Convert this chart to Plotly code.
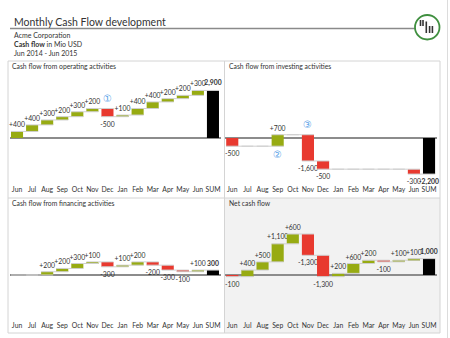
import plotly.graph_objects as go

# ---------------- data ----------------
months = ["Jun", "Jul", "Aug", "Sep", "Oct", "Nov", "Dec", "Jan", "Feb", "Mar", "Apr", "May", "Jun"]
sum_label = "SUM"
operating = [400, 400, 300, 200, 300, 200, -500, 100, 400, 400, 200, 200, 300]
investing = [-500, 0, 0, 700, 0, -1600, -500, 0, 0, 0, 0, 0, -300]
financing = [0, 0, 200, 200, 300, 100, -300, 100, 200, -200, -300, -100, 100]
net_cash = [-100, 400, 500, 1100, 600, -1300, -1300, 200, 600, 200, -100, 100, 100]
panel_titles = ["Cash flow from operating activities", "Cash flow from investing activities",
                "Cash flow from financing activities", "Net cash flow"]
# notes: (panel index, month index, symbol, side)
notes = [(0, 6, "①", "above"), (1, 3, "②", "below"), (1, 5, "③", "above")]

title = "Monthly Cash Flow development"
company = "Acme Corporation"
measure_txt = "<b>Cash flow</b> in Mio USD"
period = "Jun 2014 - Jun 2015"

# ---------------- style ----------------
W, H = 450, 338
GREEN = "#97ab12"
RED = "#e8392f"
BLUE = "#5aa2e8"
TXT = "#333333"
FONT = "Lato, 'Open Sans', sans-serif"
PX_PER_UNIT = 0.0164


def X(px):
    return px / W


def Y(py):
    return 1 - py / H


# panel geometry in pixels: x-domain, y-domain (top, bottom), baseline
panels_geo = [
    dict(x0=9.5, x1=220.5, top=70, bottom=184, base=138),
    dict(x0=224.7, x1=436.6, top=70, bottom=184, base=138),
    dict(x0=9.5, x1=220.5, top=207, bottom=320, base=275),
    dict(x0=224.7, x1=436.6, top=207, bottom=320, base=275),
]
series = [operating, investing, financing, net_cash]

fig = go.Figure()
layout = dict(
    width=W, height=H, autosize=False,
    margin=dict(l=0, r=0, t=0, b=0),
    paper_bgcolor="white", plot_bgcolor="rgba(0,0,0,0)",
    showlegend=False, bargap=0.3,
    font=dict(family=FONT, color=TXT),
)

annotations = []
shapes = []

ticktext = months + [sum_label]
xs = list(range(len(ticktext)))

for i, (vals, g) in enumerate(zip(series, panels_geo)):
    ax = "" if i == 0 else str(i + 1)
    total = sum(vals)
    texts = [f"{v:+,}" if v else "" for v in vals] + [f"<b>{total:,}</b>"]
    fig.add_trace(go.Waterfall(
        x=xs, y=vals + [0], measure=["relative"] * len(vals) + ["total"],
        text=texts, textposition="outside", constraintext="none", cliponaxis=False,
        textfont=dict(size=6.8, color=TXT, family=FONT),
        increasing=dict(marker=dict(color=GREEN)),
        decreasing=dict(marker=dict(color=RED)),
        totals=dict(marker=dict(color="black")),
        connector=dict(mode="spanning", line=dict(color="#cfcfcf", width=1)),
        xaxis="x" + ax, yaxis="y" + ax, hoverinfo="skip",
    ))
    units_per_px = 1 / PX_PER_UNIT
    yr = [-(g["bottom"] - g["base"]) * units_per_px, (g["base"] - g["top"]) * units_per_px]
    layout["xaxis" + ax] = dict(
        domain=[X(g["x0"]), X(g["x1"])], anchor="y" + ax, range=[-0.5, len(xs) - 0.5],
        tickmode="array", tickvals=xs, ticktext=ticktext, ticks="", showline=False,
        tickangle=0, showgrid=False, zeroline=False,
        tickfont=dict(size=6.8, color=TXT, family=FONT), fixedrange=True,
    )
    layout["yaxis" + ax] = dict(
        domain=[Y(g["bottom"]), Y(g["top"])], anchor="x" + ax, range=yr,
        showgrid=False, showticklabels=False, ticks="", showline=False,
        zeroline=True, zerolinecolor="#8c8c8c", zerolinewidth=2, fixedrange=True,
    )

# panel titles
title_pos = [(10, 66), (227, 66), (10, 203), (227, 203)]
for t, (px, py) in zip(panel_titles, title_pos):
    annotations.append(dict(text=t, x=X(px), y=Y(py), xref="paper", yref="paper",
                            xanchor="left", yanchor="middle", showarrow=False,
                            font=dict(size=6.8, color=TXT, family=FONT)))

# circled notes
for (pi, mi, sym, side) in notes:
    vals = series[pi]
    start = sum(vals[:mi])
    end = start + vals[mi]
    ax = "" if pi == 0 else str(pi + 1)
    if side == "above":
        yv, shift = max(start, end), 10
    else:
        yv, shift = min(start, end), -8
    annotations.append(dict(text=sym, x=mi, y=yv, xref="x" + ax, yref="y" + ax,
                            yshift=shift, showarrow=False,
                            font=dict(size=10, color=BLUE, family="DejaVu Sans")))

# header texts
annotations += [
    dict(text=title, x=X(12), y=Y(22), xref="paper", yref="paper", xanchor="left",
         yanchor="middle", showarrow=False, font=dict(size=10.5, color=TXT, family=FONT)),
    dict(text=company, x=X(12), y=Y(35), xref="paper", yref="paper", xanchor="left",
         yanchor="middle", showarrow=False, font=dict(size=7, color=TXT, family=FONT)),
    dict(text=measure_txt, x=X(12), y=Y(44), xref="paper", yref="paper", xanchor="left",
         yanchor="middle", showarrow=False, font=dict(size=7, color=TXT, family=FONT)),
    dict(text=period, x=X(12), y=Y(53), xref="paper", yref="paper", xanchor="left",
         yanchor="middle", showarrow=False, font=dict(size=7, color=TXT, family=FONT)),
]

# background / frames
shapes.append(dict(type="rect", xref="paper", yref="paper", x0=X(225), x1=X(440),
                   y0=Y(333), y1=Y(198), fillcolor="#f2f2f2", line=dict(width=0), layer="below"))
shapes.append(dict(type="rect", xref="paper", yref="paper", x0=X(8), x1=X(440),
                   y0=Y(333), y1=Y(61), line=dict(color="#d4d4d4", width=1), layer="below"))
shapes.append(dict(type="line", xref="paper", yref="paper", x0=X(224.5), x1=X(224.5),
                   y0=Y(333), y1=Y(61), line=dict(color="#d4d4d4", width=1), layer="below"))
shapes.append(dict(type="line", xref="paper", yref="paper", x0=X(8), x1=X(440),
                   y0=Y(198), y1=Y(198), line=dict(color="#d4d4d4", width=1), layer="below"))
shapes.append(dict(type="line", xref="paper", yref="paper", x0=X(447.5), x1=X(447.5),
                   y0=0, y1=1, line=dict(color="#dcdcdc", width=1), layer="below"))
# title underline
shapes.append(dict(type="line", xref="paper", yref="paper", x0=X(10), x1=X(415),
                   y0=Y(28.5), y1=Y(28.5), line=dict(color="#8a8a8a", width=1.5)))
# logo
shapes.append(dict(type="circle", xref="paper", yref="paper", x0=X(415), x1=X(439.5),
                   y0=Y(39.5), y1=Y(15), line=dict(color="#3f8f3f", width=1.8), fillcolor="white"))
for (cx, t, b) in [(420.5, 20, 26), (423, 20, 26), (426.3, 21.5, 33), (429.6, 26, 33), (432.4, 26, 33)]:
    shapes.append(dict(type="rect", xref="paper", yref="paper", x0=X(cx - 0.8), x1=X(cx + 0.8),
                       y0=Y(b), y1=Y(t), fillcolor="#333333", line=dict(width=0)))

layout["annotations"] = annotations
layout["shapes"] = shapes
fig.update_layout(**layout)
fig.write_html("out.html")
